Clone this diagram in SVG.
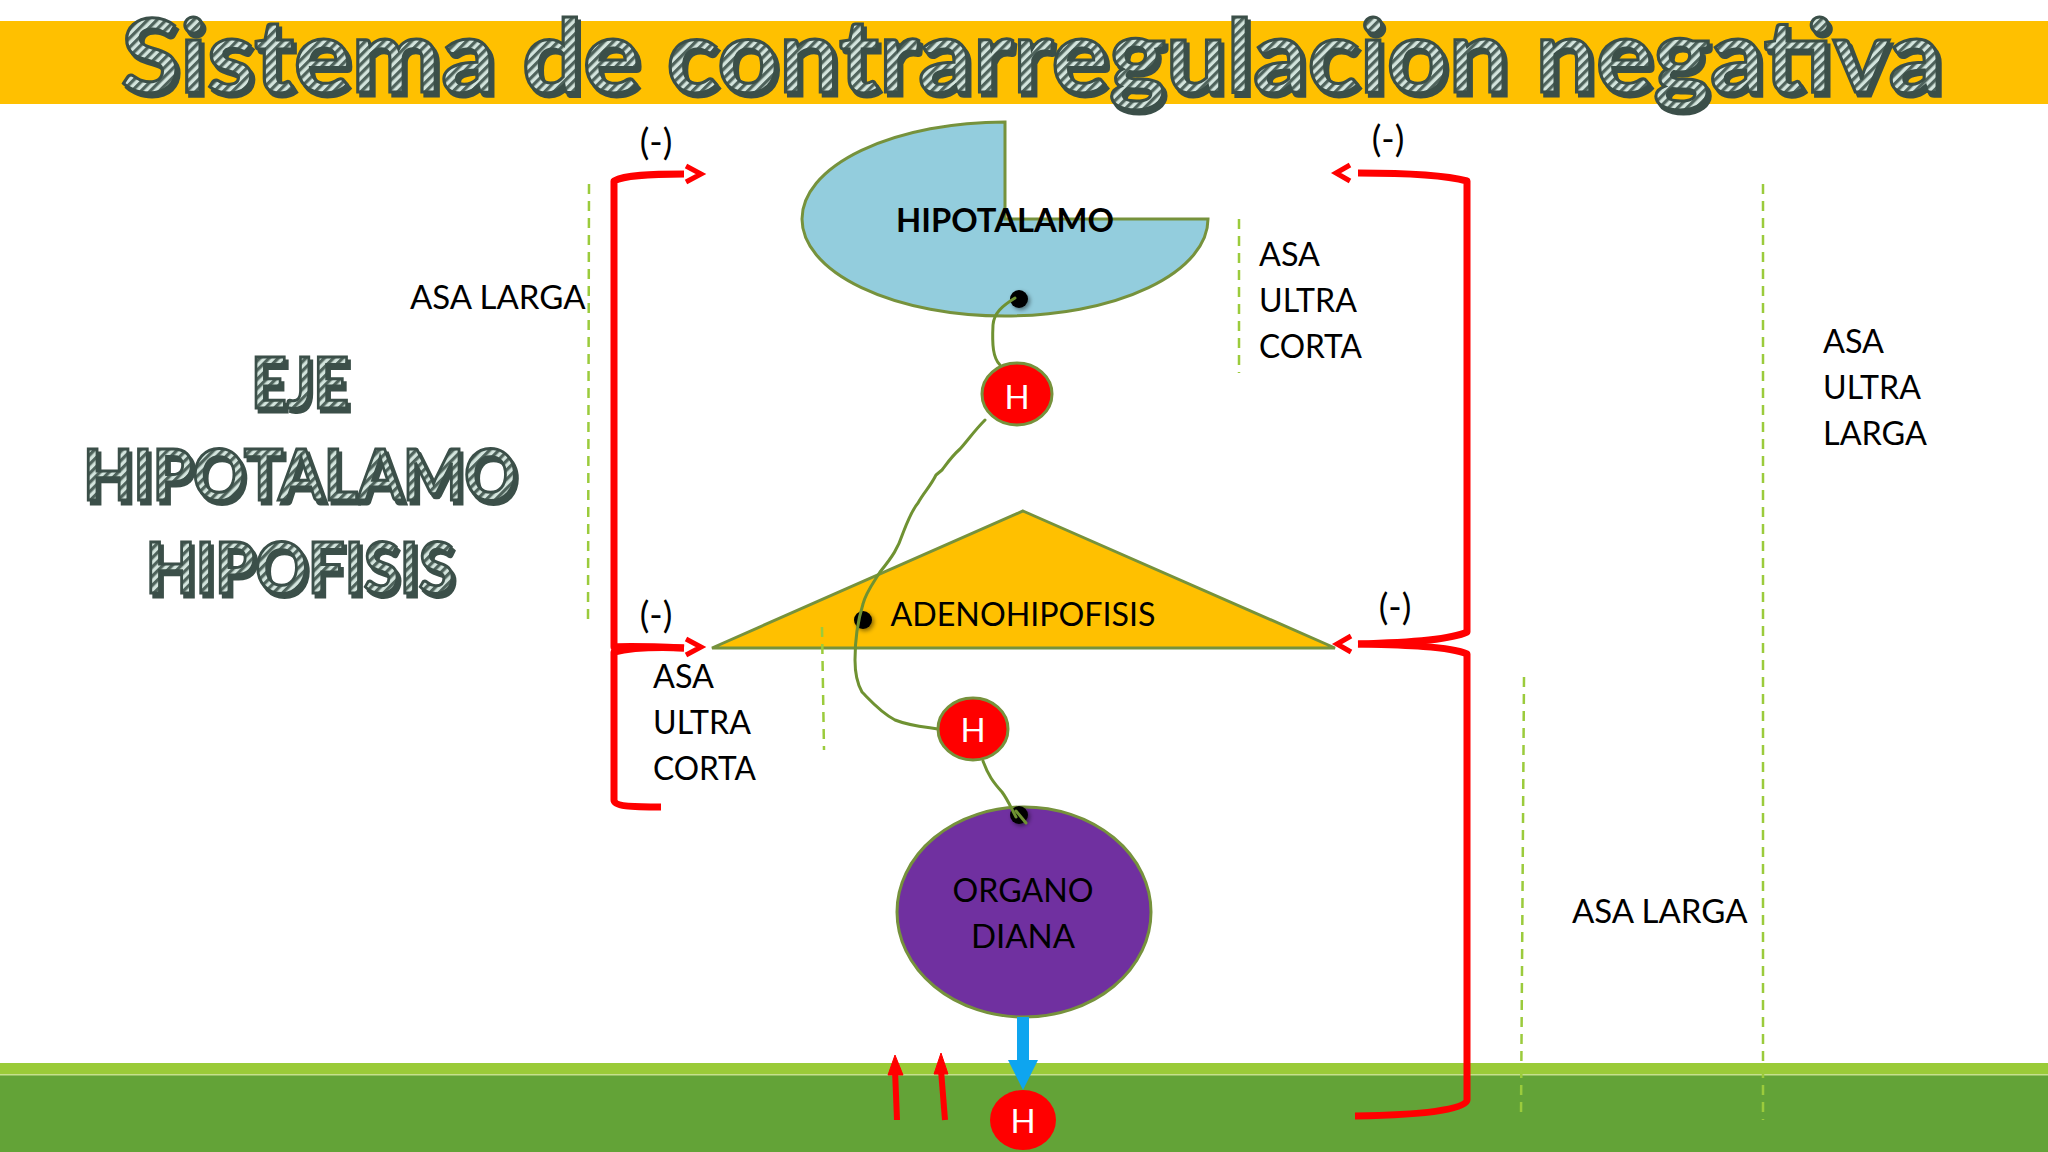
<svg xmlns="http://www.w3.org/2000/svg" width="2048" height="1152" viewBox="0 0 2048 1152">
<style>
text{font-family:Lato,"Open Sans","Liberation Sans",sans-serif;fill:#000}
.lb{font-size:33px}
.p{font-size:36px;text-anchor:middle}
.c{text-anchor:middle}
.fx{font-weight:700;fill:url(#hatch);stroke:#3b4f48;stroke-width:3;filter:url(#ext);text-anchor:middle}
.h{font-size:33px;fill:#fff;text-anchor:middle}
.o{stroke:#76923c;stroke-width:3}
.w{fill:none;stroke:#6f9232;stroke-width:3;stroke-linejoin:round;stroke-linecap:round}
.d{fill:none;stroke:#9bcb3c;stroke-width:2.5;stroke-dasharray:10 7}
.r{fill:none;stroke:#f00;stroke-width:7;stroke-linejoin:round}
.ch{fill:none;stroke:#f00;stroke-width:5}
.dot{fill:#000;filter:url(#sh)}
</style>
<defs>
<pattern id="hatch" width="6.5" height="6.5" patternUnits="userSpaceOnUse" patternTransform="rotate(45)">
<rect width="6.5" height="6.5" fill="#d3e4dd"/><rect width="3.2" height="6.5" fill="#4f645c"/>
</pattern>
<filter id="ext" x="-5%" y="-20%" width="110%" height="140%">
<feOffset in="SourceAlpha" dx="3" dy="4" result="o"/>
<feFlood flood-color="#3b4f48"/><feComposite in2="o" operator="in" result="s"/>
<feMerge><feMergeNode in="s"/><feMergeNode in="SourceGraphic"/></feMerge>
</filter>
<filter id="sh" x="-50%" y="-50%" width="200%" height="200%"><feDropShadow dx="2" dy="2" stdDeviation="2" flood-color="#000" flood-opacity=".45"/></filter>
</defs>
<rect width="2048" height="1152" fill="#fff"/>
<g id="background">
<rect x="0" y="21" width="2048" height="83" fill="#ffc000"/>
<rect x="0" y="1063" width="2048" height="12" fill="#9acb38"/>
<rect x="0" y="1075" width="2048" height="77" fill="#63a337"/>
<rect x="0" y="1074" width="2048" height="1.5" fill="#c5e08c"/>
</g>
<g id="titulo"><text class="fx" x="1032" y="92" font-size="102" textLength="1822" lengthAdjust="spacingAndGlyphs">Sistema de contrarregulacion negativa</text></g>
<g id="eje">
<text class="fx" x="300" y="408" font-size="70" textLength="98" lengthAdjust="spacingAndGlyphs">EJE</text>
<text class="fx" x="300" y="500" font-size="70" textLength="434" lengthAdjust="spacingAndGlyphs">HIPOTALAMO</text>
<text class="fx" x="300" y="593" font-size="70" textLength="309" lengthAdjust="spacingAndGlyphs">HIPOFISIS</text>
</g>
<g id="hipotalamo">
<path class="o" d="M1005 122A203 97 0 1 0 1208 219H1005Z" fill="#93cddd"/>
<text x="1005" y="232" class="c" font-size="33" font-weight="700" textLength="218" lengthAdjust="spacingAndGlyphs">HIPOTALAMO</text>
<circle class="dot" cx="1019" cy="299" r="9"/>
</g>
<g id="adenohipofisis">
<path class="o" d="M1023 511L1335 648H712Z" fill="#ffc000"/>
<text x="1023" y="626" class="lb c" textLength="265" lengthAdjust="spacingAndGlyphs">ADENOHIPOFISIS</text>
<circle class="dot" cx="863" cy="620" r="9"/>
</g>
<g id="organo-diana">
<ellipse class="o" cx="1024" cy="912" rx="127" ry="105" fill="#7030a0"/>
<text x="1023" y="902" class="lb c" textLength="141" lengthAdjust="spacingAndGlyphs">ORGANO</text>
<text x="1023" y="948" class="lb c">DIANA</text>
<circle class="dot" cx="1019" cy="815" r="9"/>
</g>
<g id="conectores">
<path class="w" d="M1015 298C1002 306 994 313 993 325C992 345 993 358 1000 365"/>
<path class="w" d="M985 420C975 430 968 440 960 449C952 456 948 462 942 470L936 475C930 487 924 492 918 503C912 510 908 520 903 533C898 548 893 556 880 572C874 582 866 592 863 604C858 620 855 640 855 660C855 675 858 685 862 692C870 700 880 712 895 720C910 726 925 727 938 729"/>
<path class="w" d="M983 761C988 775 993 782 1002 792C1008 800 1012 810 1016 817"/>
<path class="w" d="M1016 811L1026 823"/>
<path class="d" d="M589 184L588 622"/>
<path class="d" d="M1239 219V373"/>
<path class="d" d="M822 627L824 750"/>
<path class="d" d="M1763 184V1120"/>
<path class="d" d="M1524 677L1521 1117"/>
<path class="r" d="M684 174C650 174 625 175 614 181V642L614 647C630 646 660 647 684 648"/>
<path class="r" d="M684 648C660 647 630 648 614 652V800C614 806 630 807 661 807"/>
<path class="r" d="M1358 173C1400 173 1445 175 1467 181V632C1450 640 1400 643 1358 644"/>
<path class="r" d="M1358 644C1400 645 1450 646 1467 654V1100C1467 1110 1420 1115 1355 1116"/>
<path class="ch" d="M686 166L701 174L686 182M686 639L701 647L686 655"/>
<path class="ch" d="M1350 165L1336 173L1350 181M1351 636L1337 644L1351 652"/>
<path d="M897 1120L895 1070" stroke="#f00" stroke-width="6" fill="none"/>
<path d="M888 1075L895 1055L903 1075Z" fill="#f00" stroke="#f00" stroke-width="1"/>
<path d="M945 1120L941 1070" stroke="#f00" stroke-width="6" fill="none"/>
<path d="M934 1074L941 1053L948 1074Z" fill="#f00" stroke="#f00" stroke-width="1"/>
<path d="M1023 1017V1062" stroke="#0ea5ef" stroke-width="12" fill="none"/>
<path d="M1008 1060H1038L1023 1090Z" fill="#0ea5ef"/>
</g>
<g id="hormona-1"><ellipse class="o" cx="1017" cy="394" rx="35" ry="31" fill="#f00"/><text class="h" x="1017" y="409">H</text></g>
<g id="hormona-2"><ellipse class="o" cx="973" cy="729" rx="35" ry="31" fill="#f00"/><text class="h" x="973" y="742">H</text></g>
<g id="hormona-3"><ellipse cx="1023" cy="1120" rx="33" ry="30" fill="#f00"/><text class="h" x="1023" y="1133">H</text></g>
<g id="etiquetas">
<text x="656" y="155" class="p">(-)</text>
<text x="1388" y="152" class="p">(-)</text>
<text x="656" y="628" class="p">(-)</text>
<text x="1395" y="620" class="p">(-)</text>
<text x="410" y="309" class="lb">ASA LARGA</text>
<text x="1572" y="923" class="lb">ASA LARGA</text>
<text x="1259" y="266" class="lb" textLength="61" lengthAdjust="spacingAndGlyphs">ASA</text><text x="1259" y="312" class="lb" textLength="98" lengthAdjust="spacingAndGlyphs">ULTRA</text><text x="1259" y="358" class="lb" textLength="103" lengthAdjust="spacingAndGlyphs">CORTA</text>
<text x="653" y="688" class="lb" textLength="61" lengthAdjust="spacingAndGlyphs">ASA</text><text x="653" y="734" class="lb" textLength="98" lengthAdjust="spacingAndGlyphs">ULTRA</text><text x="653" y="780" class="lb" textLength="103" lengthAdjust="spacingAndGlyphs">CORTA</text>
<text x="1823" y="353" class="lb" textLength="61" lengthAdjust="spacingAndGlyphs">ASA</text><text x="1823" y="399" class="lb" textLength="98" lengthAdjust="spacingAndGlyphs">ULTRA</text><text x="1823" y="445" class="lb" textLength="104" lengthAdjust="spacingAndGlyphs">LARGA</text>
</g>
</svg>
